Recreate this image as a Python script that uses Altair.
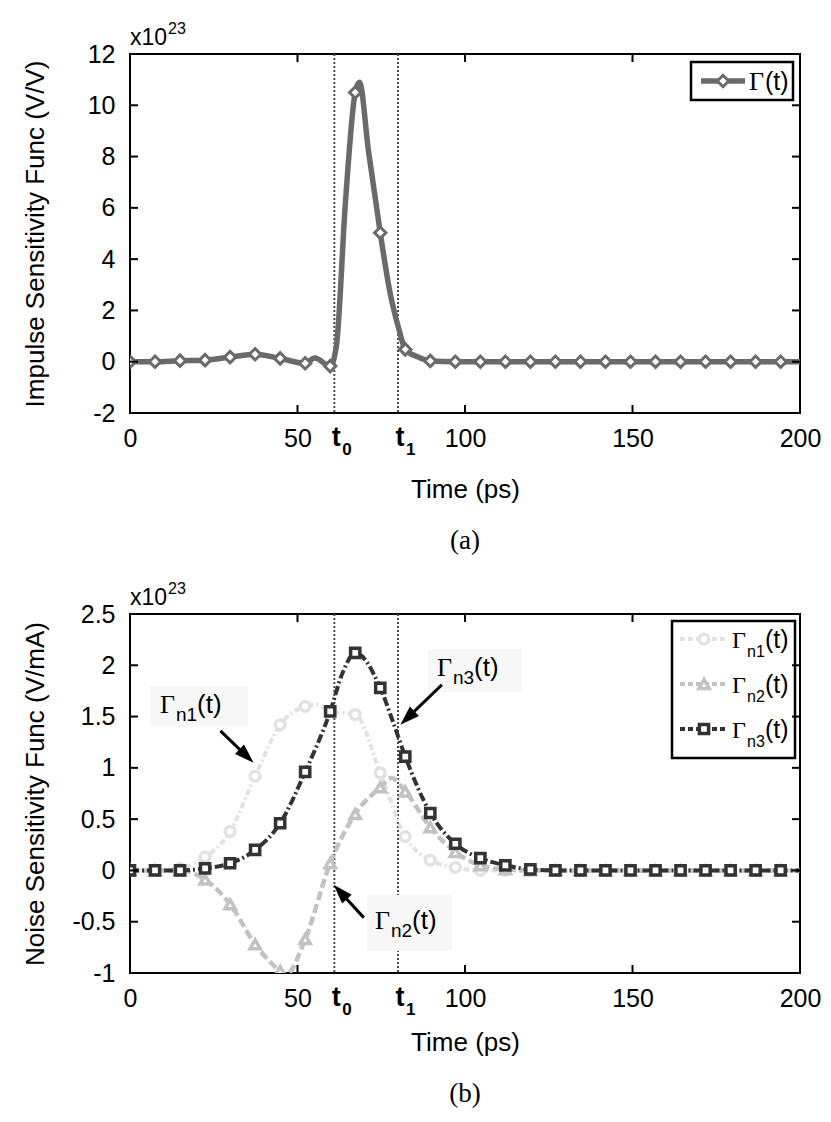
import math
import altair as alt
import pandas as pd

SANS = "Liberation Sans"
SERIF = "Liberation Serif"

# ---------------- shared values ----------------
MARK_T = [0, 7.47, 14.94, 22.41, 29.88, 37.35, 44.82, 52.29, 59.76, 67.23, 74.70, 82.17,
          89.64, 97.11, 104.58, 112.05, 119.52, 126.99, 134.46, 141.93, 149.40, 156.87,
          164.34, 171.81, 179.28, 186.75, 194.22]
T_LINES = [61.0, 80.0]
T_SUBS = ["0", "1"]
X_TICKS = [0, 50, 100, 150, 200]

# ---------------- (a) impulse sensitivity function, x1e23 V/V ----------------
A_Y_TICKS = [-2, 0, 2, 4, 6, 8, 10, 12]
G_MARK = [0, 0, 0.04, 0.06, 0.18, 0.29, 0.13, -0.06, -0.17, 10.5, 5.03, 0.48, 0.03,
          0, 0, 0, 0, 0, 0, 0, 0, 0, 0, 0, 0, 0, 0]
G_EXTRA_T = [55.2, 61.6, 64.3, 68.5, 71.2, 77.7, 80.2, 85.7, 200]
G_EXTRA_V = [0.14, 0.6, 6.2, 10.9, 8.2, 2.64, 1.3, 0.2, 0]

# ---------------- (b) noise sensitivity functions, x1e23 V/mA ----------------
B_Y_TICKS = [-1, -0.5, 0, 0.5, 1, 1.5, 2, 2.5]
N1_MARK = [0, 0, 0.02, 0.13, 0.38, 0.92, 1.42, 1.60, 1.55, 1.52, 0.95, 0.33, 0.10, 0.03,
           0, 0, 0, 0, 0, 0, 0, 0, 0, 0, 0, 0, 0]
N1_EXTRA_T = [55.5, 200]
N1_EXTRA_V = [1.62, 0]
N2_MARK = [0, 0, 0, -0.09, -0.33, -0.72, -0.98, -0.67, 0.07, 0.55, 0.81, 0.77, 0.42, 0.18,
           0.05, 0.01, 0, 0, 0, 0, 0, 0, 0, 0, 0, 0, 0]
N2_EXTRA_T = [46.5, 78.0, 200]
N2_EXTRA_V = [-1.02, 0.9, 0]
N3_MARK = [0, 0, 0, 0.02, 0.07, 0.20, 0.46, 0.96, 1.55, 2.12, 1.78, 1.11, 0.56, 0.26,
           0.12, 0.05, 0.01, 0, 0, 0, 0, 0, 0, 0, 0, 0, 0]
N3_EXTRA_T = [63.5, 78.5, 200]
N3_EXTRA_V = [1.93, 1.45, 0]

# annotation arrows (tail t, tail v, tip t, tip v) in data units of panel (b)
ARROWS = [(27.0, 1.36, 36.9, 1.05), (93.1, 1.81, 80.7, 1.42), (69.8, -0.46, 60.8, -0.14)]

W, H = 670, 359
ONE = pd.DataFrame({"k": [0]})
XS = alt.Scale(domain=[0, 200], nice=False, zero=False)
LABEL_EXPR = "datum.value < 0 ? '-' + format(-datum.value, '~g') : format(datum.value, '~g')"


def series_df(mark_v, extra_t, extra_v):
    df = pd.DataFrame({"t": list(MARK_T) + list(extra_t), "v": list(mark_v) + list(extra_v)})
    return df.sort_values("t").reset_index(drop=True)


def txt(s, x, y, size, font=SANS, align="left", **kw):
    return alt.Chart(ONE).mark_text(text=s, font=font, fontSize=size, align=align,
                                    baseline="alphabetic", color="black", **kw).encode(
        x=alt.value(x), y=alt.value(y))


def gamma(x, y, sub, gs, ss, ts, sub_dy):
    gw = round(0.62 * gs)
    sw = round(1.12 * ss) if sub else 0
    parts = [txt("Γ", x, y, gs, SERIF)]
    if sub:
        parts.append(txt(sub, x + gw, y + sub_dy, ss))
    parts.append(txt("(t)", x + gw + sw, y, ts))
    return parts


def box(x1, x2, y1, y2, fill="white", stroke=None, sw=0):
    kw = dict(fill=fill)
    if stroke:
        kw.update(stroke=stroke, strokeWidth=sw)
    return alt.Chart(ONE).mark_rect(**kw).encode(
        x=alt.value(x1), x2=alt.value(x2), y=alt.value(y1), y2=alt.value(y2))


def legend_row(x1, x2, xm, y, color, dash, width, shape, size, msw):
    line_kw = dict(color=color, strokeWidth=width)
    if dash:
        line_kw["strokeDash"] = dash
    ln = alt.Chart(ONE).mark_rule(**line_kw).encode(
        x=alt.value(x1), x2=alt.value(x2), y=alt.value(y))
    pt = alt.Chart(ONE).mark_point(shape=shape, filled=True, fill="white", stroke=color,
                                   strokeWidth=msw, size=size, opacity=1).encode(
        x=alt.value(xm), y=alt.value(y))
    return [ln, pt]


class Panel:
    def __init__(self, y_dom, y_ticks, y_title, title_y):
        self.ys = alt.Scale(domain=y_dom, nice=False, zero=False)
        self.y_ticks = y_ticks
        self.xaxis = alt.Axis(values=X_TICKS, title="Time (ps)", ticks=False, domain=False,
                              grid=False, labelFont=SANS, labelFontSize=25, labelColor="black",
                              labelBaseline="alphabetic", labelPadding=33, labelFlush=False,
                              labelOverlap=False, titleFont=SANS, titleFontSize=26,
                              titleFontWeight="normal", titleColor="black",
                              titleBaseline="alphabetic", titleAlign="center",
                              titleX=W / 2, titleY=title_y)
        self.yaxis = alt.Axis(values=y_ticks, title=y_title, ticks=False, domain=False,
                              grid=False, labelFont=SANS, labelFontSize=25, labelColor="black",
                              labelPadding=15, labelFlush=False, labelOverlap=False,
                              labelExpr=LABEL_EXPR,
                              titleFont=SANS, titleFontSize=26, titleFontWeight="normal",
                              titleColor="black", titleBaseline="middle", titleAlign="center",
                              titleX=-95, titleY=H / 2)

    def X(self, f="t"):
        return alt.X(f + ":Q", scale=XS, axis=self.xaxis)

    def Y(self, f="v"):
        return alt.Y(f + ":Q", scale=self.ys, axis=self.yaxis)

    def deco(self, label, cap_y):
        tl = pd.DataFrame({"t": T_LINES, "sub": T_SUBS})
        vl = alt.Chart(tl).mark_rule(color="#4a4a4a", strokeWidth=2, strokeDash=[2, 2]).encode(
            x=self.X(), y=alt.value(0), y2=alt.value(H))
        t_main = alt.Chart(tl).mark_text(text="t", font=SANS, fontSize=27, fontWeight="bold",
                                         align="center", baseline="alphabetic", dx=2,
                                         color="black").encode(x=self.X(), y=alt.value(H + 33))
        t_sub = alt.Chart(tl).mark_text(font=SANS, fontSize=17, fontWeight="bold", align="left",
                                        baseline="alphabetic", dx=8, color="black").encode(
            x=self.X(), y=alt.value(H + 42), text="sub:N")
        xt = pd.DataFrame({"t": X_TICKS[1:-1]})
        yt = pd.DataFrame({"v": self.y_ticks[1:-1]})
        rk = dict(color="black", strokeWidth=2)
        ticks = [
            alt.Chart(xt).mark_rule(**rk).encode(x=self.X(), y=alt.value(0), y2=alt.value(8)),
            alt.Chart(xt).mark_rule(**rk).encode(x=self.X(), y=alt.value(H - 8), y2=alt.value(H)),
            alt.Chart(yt).mark_rule(**rk).encode(y=self.Y(), x=alt.value(0), x2=alt.value(8)),
            alt.Chart(yt).mark_rule(**rk).encode(y=self.Y(), x=alt.value(W - 8), x2=alt.value(W)),
        ]
        texts = [t_main, t_sub, txt("x10", 0, -9, 23), txt("23", 38, -20, 16),
                 txt(label, W / 2, cap_y, 27, SERIF, align="center")]
        return vl, texts, ticks

    def curve(self, df, color, width, dash, shape, size, msw):
        kw = dict(color=color, strokeWidth=width, interpolate="monotone", clip=True)
        if dash:
            kw["strokeDash"] = dash
        ln = alt.Chart(df).mark_line(**kw).encode(x=self.X(), y=self.Y())
        mk = df[df["t"].isin(MARK_T)]
        pt = alt.Chart(mk).mark_point(shape=shape, filled=True, fill="white", stroke=color,
                                      strokeWidth=msw, size=size, opacity=1, clip=True).encode(
            x=self.X(), y=self.Y())
        return [ln, pt]


# ---------------- panel (a) ----------------
GRAY = "#6a6a6a"
pa = Panel([-2, 12], A_Y_TICKS, "Impulse Sensitivity Func (V/V)", 84)
vl_a, texts_a, ticks_a = pa.deco("(a)", H + 136)
layers_a = [vl_a]
layers_a += pa.curve(series_df(G_MARK, G_EXTRA_T, G_EXTRA_V), GRAY, 5.5, None, "diamond", 130, 3)
layers_a += texts_a
layers_a += [box(561, 663, 8, 46, "white", "black", 2.5)]
layers_a += legend_row(571, 615, 593, 27, GRAY, None, 5.5, "diamond", 130, 3)
layers_a += gamma(619, 36, "", 26, 0, 25, 0)
layers_a += ticks_a
top = alt.layer(*layers_a).properties(width=W, height=H)

# ---------------- panel (b) ----------------
C1, C2, C3 = "#e2e2e2", "#c2c2c2", "#333333"
D1, D2, D3 = [6, 3, 2, 3], [9, 4], [9, 3, 2, 3]
pb = Panel([-1, 2.5], B_Y_TICKS, "Noise Sensitivity Func (V/mA)", 77)
vl_b, texts_b, ticks_b = pb.deco("(b)", H + 129)
layers_b = [vl_b,
            box(20, 118, 72, 112, "#f7f7f7"), box(298, 392, 35, 78, "#f7f7f7"),
            box(237, 322, 281, 337, "#f7f7f7")]
layers_b += pb.curve(series_df(N1_MARK, N1_EXTRA_T, N1_EXTRA_V), C1, 4, D1, "circle", 95, 3.5)
layers_b += pb.curve(series_df(N2_MARK, N2_EXTRA_T, N2_EXTRA_V), C2, 4.5, D2, "triangle-up", 105, 3.5)
layers_b += pb.curve(series_df(N3_MARK, N3_EXTRA_T, N3_EXTRA_V), C3, 4, D3, "square", 85, 3.5)

# arrows
px_t = W / 200.0
px_v = H / 3.5
ARROW_PATH = "M0,0L1,3L-1,3Z"
for (t1, v1, t2, v2) in ARROWS:
    dx = (t2 - t1) * px_t
    dy = -(v2 - v1) * px_v
    L = math.hypot(dx, dy)
    ang = math.degrees(math.atan2(dx, -dy)) % 360
    back = 10.0 / L
    te, ve = t2 - (t2 - t1) * back, v2 - (v2 - v1) * back
    seg = pd.DataFrame({"t": [t1], "v": [v1], "t2": [te], "v2": [ve]})
    layers_b.append(alt.Chart(seg).mark_rule(color="black", strokeWidth=3).encode(
        x=pb.X(), y=pb.Y(), x2="t2:Q", y2="v2:Q"))
    tip = pd.DataFrame({"t": [t2], "v": [v2]})
    layers_b.append(alt.Chart(tip).mark_point(shape=ARROW_PATH, filled=True, color="black",
                                              size=170, angle=ang, opacity=1).encode(
        x=pb.X(), y=pb.Y()))

layers_b += texts_b
layers_b += gamma(30, 99, "n1", 26, 19, 26, 8)
layers_b += gamma(307, 62, "n3", 26, 19, 26, 8)
layers_b += gamma(245, 315, "n2", 26, 19, 26, 8)

# legend
layers_b += [box(542, 665, 7, 144, "white", "black", 2.5)]
layers_b += legend_row(550, 597, 574, 25, C1, [5, 3], 4, "circle", 95, 3.5)
layers_b += legend_row(550, 597, 574, 70, C2, [5, 3], 4, "triangle-up", 105, 3.5)
layers_b += legend_row(550, 597, 574, 115, C3, [5, 3], 4, "square", 85, 3.5)
for yy, s in [(34, "n1"), (79, "n2"), (124, "n3")]:
    layers_b += gamma(602, yy, s, 24, 16, 25, 9)
layers_b += ticks_b
bottom = alt.layer(*layers_b).properties(width=W, height=H)

chart = alt.vconcat(top, bottom, spacing=25).properties(
    padding={"left": 20, "top": 20, "right": 0, "bottom": 0},
    background="white",
).configure_view(stroke="black", strokeWidth=2)

chart.save("out.html", embed_options={"renderer": "svg", "actions": False})
